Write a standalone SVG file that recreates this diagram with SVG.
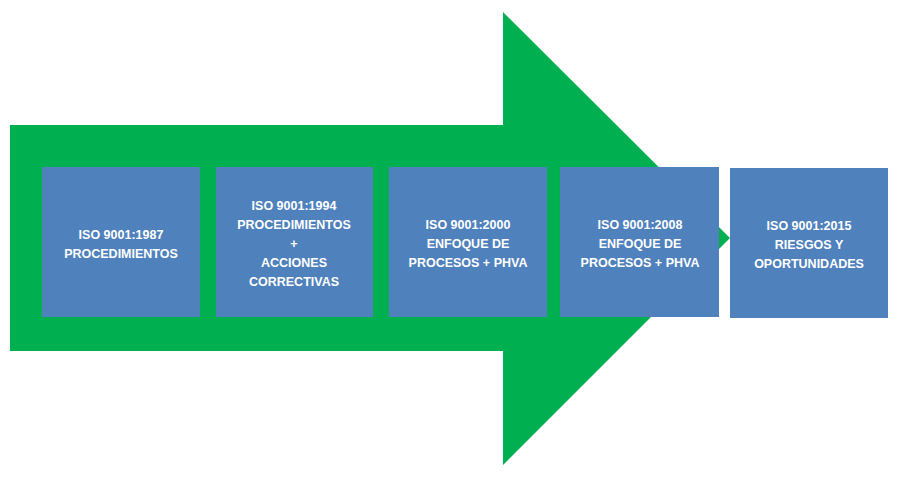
<svg xmlns="http://www.w3.org/2000/svg" width="897" height="493" viewBox="0 0 897 493">
<style>
.b{fill:#4f81bd}
.t{fill:#fff;font-family:"Liberation Sans",Arial,sans-serif;font-weight:bold;font-size:12.5px;text-anchor:middle}
</style>
<rect width="897" height="493" fill="#fff"/>
<polygon id="arrow" points="10,125 503,125 503,12 730,238 503,465 503,351 10,351" fill="#00b050"/>
<g id="connectors"></g>
<g id="n1"><rect class="b" x="42" y="167" width="158" height="150"/><text class="t" x="121" y="239">ISO 9001:1987</text><text class="t" x="121" y="258">PROCEDIMIENTOS</text></g>
<g id="n2"><rect class="b" x="216" y="167" width="157" height="150"/><text class="t" x="294" y="210">ISO 9001:1994</text><text class="t" x="294" y="229">PROCEDIMIENTOS</text><text class="t" x="294" y="248">+</text><text class="t" x="294" y="267">ACCIONES</text><text class="t" x="294" y="286">CORRECTIVAS</text></g>
<g id="n3"><rect class="b" x="389" y="167" width="158" height="150"/><text class="t" x="468" y="229">ISO 9001:2000</text><text class="t" x="468" y="248">ENFOQUE DE</text><text class="t" x="468" y="267">PROCESOS + PHVA</text></g>
<g id="n4"><rect class="b" x="560" y="167" width="159" height="150"/><text class="t" x="640" y="229">ISO 9001:2008</text><text class="t" x="640" y="248">ENFOQUE DE</text><text class="t" x="640" y="267">PROCESOS + PHVA</text></g>
<g id="n5"><rect class="b" x="730" y="168" width="158" height="150"/><text class="t" x="809" y="230">ISO 9001:2015</text><text class="t" x="809" y="249">RIESGOS Y</text><text class="t" x="809" y="268">OPORTUNIDADES</text></g>
</svg>
